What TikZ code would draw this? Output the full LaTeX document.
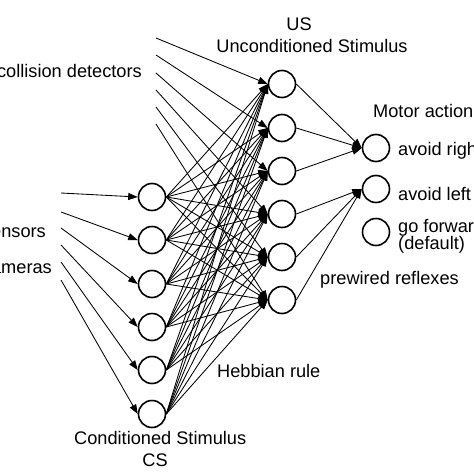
\documentclass[tikz,border=0pt]{standalone}
\usepackage{fontspec}
\setmainfont{Liberation Sans}
\usetikzlibrary{arrows.meta,positioning}

\tikzset{
  neuron/.style={circle, draw, line width=1.6pt, minimum size=27pt, inner sep=0pt},
  syn/.style={-{Triangle[length=9.5pt,width=7pt]}, line width=0.85pt},
  lbl/.style={font=\fontsize{18.2}{22}\selectfont, inner sep=0pt},
}

\begin{document}
\begin{tikzpicture}[x=1pt, y=-1pt]
    \useasboundingbox (0,0) rectangle (474,474);

    % conditioned stimulus layer
    \node[neuron] (cs1) at (152,197) {};
    \node[neuron] (cs2) at (152,240) {};
    \node[neuron] (cs3) at (152,284) {};
    \node[neuron] (cs4) at (152,327) {};
    \node[neuron] (cs5) at (152,370) {};
    \node[neuron] (cs6) at (152,414) {};

    % unconditioned stimulus layer
    \node[neuron] (us1) at (282,84) {};
    \node[neuron] (us2) at (282,128) {};
    \node[neuron] (us3) at (282,171) {};
    \node[neuron] (us4) at (282,214) {};
    \node[neuron] (us5) at (282,257) {};
    \node[neuron] (us6) at (282,300) {};

    % motor layer
    \node[neuron] (mo1) at (376,148) {};
    \node[neuron] (mo2) at (376,189) {};
    \node[neuron] (mo3) at (376,232) {};

    % labels
    \node[lbl, anchor=base] (ustitle) at (299,30) {US};
    \node[lbl, anchor=base] (usname) at (312,52) {Unconditioned Stimulus};
    \node[lbl, anchor=base east] (collide) at (142,77) {collision detectors};
    \node[lbl, anchor=base east] (sensors) at (46,237) {sensors};
    \node[lbl, anchor=base east] (cameras) at (52,273) {cameras};
    \node[lbl, anchor=base west] (motor) at (373,117) {Motor action};
    \node[lbl, anchor=base west] (right) at (398,155) {avoid right};
    \node[lbl, anchor=base west] (left) at (398,200) {avoid left};
    \node[lbl, anchor=base west] (fwd) at (398,232) {go forward};
    \node[lbl, anchor=north west] (default) at (fwd.south west) {(default)};
    \node[lbl, anchor=base west] (reflex) at (320,284) {prewired reflexes};
    \node[lbl, anchor=base west] (hebb) at (217,377) {Hebbian rule};
    \node[lbl, anchor=base west] (csname) at (74,444) {Conditioned Stimulus};
    \node[lbl, anchor=base] (cstitle) at (155,466) {CS};

    % inputs
    \foreach \i/\y in {1/38,2/55,3/73,4/90,5/107,6/124}
        \coordinate (cd\i) at (156,\y);
    \foreach \i/\y in {1/193,2/212,3/228,4/245,5/262,6/280}
        \coordinate (se\i) at (61,\y);
    \foreach \i in {1,...,6} {
        \draw[syn] (cd\i) -- (us\i.west);
        \draw[syn] (se\i) -- (cs\i.west);
    }

    % hebbian connections
    \foreach \i in {1,...,6}
        \foreach \j in {1,...,6}
            \draw[syn] (cs\i.east) -- (us\j.west);

    % prewired reflexes
    \foreach \j/\k in {1/1,2/1,3/1,4/2,5/2,6/2}
        \draw[syn] (us\j.east) -- (mo\k.west);
\end{tikzpicture}
\end{document}
